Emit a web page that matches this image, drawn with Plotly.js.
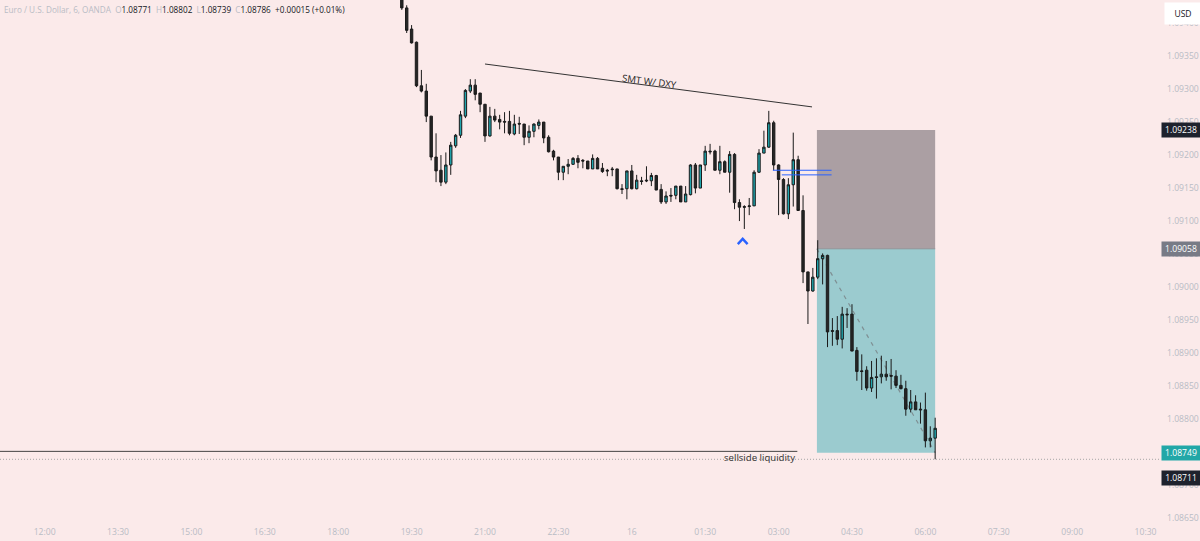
<!DOCTYPE html>
<html>
<head>
<meta charset="utf-8">
<script src="https://cdn.plot.ly/plotly-3.0.1.min.js"></script>
<style>
  html, body { margin: 0; padding: 0; background: #fbeaea; }
  #data { width: 1200px; height: 541px; }
</style>
</head>
<body>
<div id="data"></div>
<script>
var barTimes = [
  '2023-08-15 19:18','2023-08-15 19:24','2023-08-15 19:30','2023-08-15 19:36','2023-08-15 19:42','2023-08-15 19:48','2023-08-15 19:54',
  '2023-08-15 20:00','2023-08-15 20:06','2023-08-15 20:12','2023-08-15 20:18','2023-08-15 20:24','2023-08-15 20:30','2023-08-15 20:36','2023-08-15 20:42','2023-08-15 20:48','2023-08-15 20:54',
  '2023-08-15 21:00','2023-08-15 21:06','2023-08-15 21:12','2023-08-15 21:18','2023-08-15 21:24','2023-08-15 21:30','2023-08-15 21:36','2023-08-15 21:42','2023-08-15 21:48','2023-08-15 21:54',
  '2023-08-15 22:00','2023-08-15 22:06','2023-08-15 22:12','2023-08-15 22:18','2023-08-15 22:24','2023-08-15 22:30','2023-08-15 22:36','2023-08-15 22:42','2023-08-15 22:48','2023-08-15 22:54',
  '2023-08-15 23:00','2023-08-15 23:06','2023-08-15 23:12','2023-08-15 23:18','2023-08-15 23:24','2023-08-15 23:30','2023-08-15 23:36','2023-08-15 23:42','2023-08-15 23:48','2023-08-15 23:54',
  '2023-08-16 00:00','2023-08-16 00:06','2023-08-16 00:12','2023-08-16 00:18','2023-08-16 00:24','2023-08-16 00:30','2023-08-16 00:36','2023-08-16 00:42','2023-08-16 00:48','2023-08-16 00:54',
  '2023-08-16 01:00','2023-08-16 01:06','2023-08-16 01:12','2023-08-16 01:18','2023-08-16 01:24','2023-08-16 01:30','2023-08-16 01:36','2023-08-16 01:42','2023-08-16 01:48','2023-08-16 01:54',
  '2023-08-16 02:00','2023-08-16 02:06','2023-08-16 02:12','2023-08-16 02:18','2023-08-16 02:24','2023-08-16 02:30','2023-08-16 02:36','2023-08-16 02:42','2023-08-16 02:48','2023-08-16 02:54',
  '2023-08-16 03:00','2023-08-16 03:06','2023-08-16 03:12','2023-08-16 03:18','2023-08-16 03:24','2023-08-16 03:30','2023-08-16 03:36','2023-08-16 03:42','2023-08-16 03:48','2023-08-16 03:54',
  '2023-08-16 04:00','2023-08-16 04:06','2023-08-16 04:12','2023-08-16 04:18','2023-08-16 04:24','2023-08-16 04:30','2023-08-16 04:36','2023-08-16 04:42','2023-08-16 04:48','2023-08-16 04:54',
  '2023-08-16 05:00','2023-08-16 05:06','2023-08-16 05:12','2023-08-16 05:18','2023-08-16 05:24','2023-08-16 05:30','2023-08-16 05:36','2023-08-16 05:42','2023-08-16 05:48','2023-08-16 05:54',
  '2023-08-16 06:00','2023-08-16 06:06','2023-08-16 06:12'
];

var opens = [
  1.09442,1.09423,1.09391,1.09371,1.09305,1.09297,1.09259,1.09197,1.09177,1.09159,1.09185,1.09214,1.09230,1.09259,1.09297,1.09306,1.09294,
  1.09277,1.09229,1.09259,1.09254,1.09251,1.09251,1.09232,1.09248,1.09247,1.09227,1.09236,1.09245,1.09250,1.09227,1.09206,1.09197,1.09174,1.09183,1.09186,1.09195,1.09192,1.09191,1.09179,1.09195,1.09180,1.09177,1.09179,1.09179,1.09149,
  1.09149,1.09176,1.09149,1.09161,1.09162,1.09161,1.09169,1.09148,1.09129,1.09139,1.09139,1.09153,1.09129,1.09140,1.09185,1.09150,1.09185,1.09206,1.09206,1.09177,1.09190,1.09174,1.09201,1.09128,1.09122,1.09122,1.09123,1.09174,1.09203,1.09212,1.09249,1.09185,1.09163,1.09111,1.09155,1.09193,1.09116,1.09023,
  1.08994,1.09015,1.09043,1.09048,1.08934,1.08934,1.08921,1.08959,1.08959,1.08904,1.08873,1.08874,1.08847,1.08864,1.08864,1.08868,1.08866,1.08865,1.08851,1.08846,1.08815,1.08826,1.08815,1.08814,1.08767,1.08771
];
var highs = [
  1.09450,1.09427,1.09397,1.09372,1.09329,1.09308,1.09259,1.09233,1.09200,1.09204,1.09220,1.09232,1.09267,1.09300,1.09315,1.09315,1.09294,
  1.09277,1.09273,1.09270,1.09261,1.09265,1.09267,1.09261,1.09258,1.09247,1.09245,1.09248,1.09254,1.09250,1.09230,1.09208,1.09197,1.09183,1.09194,1.09197,1.09200,1.09194,1.09191,1.09201,1.09197,1.09188,1.09179,1.09182,1.09179,1.09156,
  1.09176,1.09185,1.09170,1.09167,1.09183,1.09173,1.09170,1.09156,1.09145,1.09150,1.09153,1.09153,1.09153,1.09186,1.09188,1.09185,1.09214,1.09217,1.09208,1.09214,1.09192,1.09206,1.09203,1.09133,1.09124,1.09135,1.09177,1.09209,1.09237,1.09267,1.09252,1.09186,1.09165,1.09165,1.09234,1.09199,1.09139,1.09023,
  1.09029,1.09071,1.09051,1.09049,1.08953,1.08956,1.08970,1.08968,1.08974,1.08909,1.08898,1.08880,1.08888,1.08892,1.08896,1.08888,1.08891,1.08874,1.08867,1.08858,1.08844,1.08836,1.08825,1.08840,1.08789,1.08802
];
var lows = [
  1.09420,1.09385,1.09369,1.09303,1.09295,1.09250,1.09192,1.09159,1.09153,1.09156,1.09170,1.09211,1.09226,1.09256,1.09294,1.09283,1.09265,
  1.09220,1.09228,1.09250,1.09239,1.09233,1.09230,1.09230,1.09232,1.09215,1.09218,1.09227,1.09239,1.09218,1.09204,1.09192,1.09162,1.09162,1.09171,1.09185,1.09180,1.09180,1.09179,1.09179,1.09179,1.09173,1.09168,1.09168,1.09148,1.09141,
  1.09133,1.09148,1.09148,1.09155,1.09159,1.09153,1.09147,1.09126,1.09126,1.09129,1.09133,1.09129,1.09129,1.09139,1.09142,1.09150,1.09176,1.09201,1.09177,1.09171,1.09174,1.09143,1.09118,1.09100,1.09088,1.09109,1.09123,1.09173,1.09203,1.09211,1.09177,1.09109,1.09110,1.09103,1.09122,1.09116,1.09006,1.08944,
  1.08993,1.09012,1.09004,1.08909,1.08911,1.08912,1.08907,1.08938,1.08903,1.08858,1.08844,1.08843,1.08841,1.08831,1.08854,1.08858,1.08845,1.08847,1.08845,1.08805,1.08810,1.08814,1.08793,1.08757,1.08757,1.08739
];
var closes = [
  1.09423,1.09389,1.09370,1.09305,1.09297,1.09259,1.09197,1.09176,1.09159,1.09185,1.09215,1.09230,1.09261,1.09298,1.09306,1.09292,1.09277,
  1.09229,1.09259,1.09253,1.09250,1.09250,1.09233,1.09247,1.09247,1.09227,1.09236,1.09247,1.09250,1.09226,1.09205,1.09197,1.09174,1.09183,1.09186,1.09195,1.09189,1.09191,1.09179,1.09195,1.09179,1.09175,1.09176,1.09178,1.09149,1.09148,
  1.09176,1.09149,1.09162,1.09160,1.09161,1.09169,1.09147,1.09129,1.09138,1.09138,1.09153,1.09129,1.09141,1.09185,1.09150,1.09185,1.09206,1.09205,1.09177,1.09190,1.09174,1.09201,1.09128,1.09121,1.09121,1.09123,1.09174,1.09203,1.09212,1.09249,1.09185,1.09163,1.09111,1.09155,1.09193,1.09116,1.09023,1.08994,
  1.09015,1.09043,1.09048,1.08932,1.08933,1.08921,1.08959,1.08958,1.08903,1.08872,1.08872,1.08847,1.08863,1.08863,1.08868,1.08864,1.08865,1.08851,1.08846,1.08815,1.08826,1.08814,1.08814,1.08767,1.08771,1.08786
];

var timeTicks = ['2023-08-15 12:00','2023-08-15 13:30','2023-08-15 15:00','2023-08-15 16:30','2023-08-15 18:00','2023-08-15 19:30','2023-08-15 21:00','2023-08-15 22:30','2023-08-16 00:00','2023-08-16 01:30','2023-08-16 03:00','2023-08-16 04:30','2023-08-16 06:00','2023-08-16 07:30','2023-08-16 09:00','2023-08-16 10:30'];
var timeLabels = ['12:00','13:30','15:00','16:30','18:00','19:30','21:00','22:30','16','01:30','03:00','04:30','06:00','07:30','09:00','10:30'];
var priceTicks = [1.0865,1.087,1.0875,1.088,1.0885,1.089,1.0895,1.09,1.0905,1.091,1.0915,1.092,1.0925,1.093,1.0935,1.094];

var xRange = ['2023-08-15 11:05:18','2023-08-16 10:47:42'];
var yRange = [1.08647,1.09435];

var positionTimes = ['2023-08-16 03:47','2023-08-16 06:12'];
var positionStop = 1.09238;
var positionEntry = 1.09058;
var positionTarget = 1.08749;
var smtTimes = ['2023-08-15 21:00','2023-08-16 03:41'];
var smtPrices = [1.09338,1.09273];
var liquidityEnd = '2023-08-16 03:23';
var liquidityPrice = 1.08751;
var cursorPrice = 1.08739;
var blueEnd = '2023-08-16 04:05';
var blueStarts = ['2023-08-16 02:53','2023-08-16 03:04'];
var bluePrices = [1.09177,1.09170];
var caretTimes = ['2023-08-16 02:10','2023-08-16 02:16','2023-08-16 02:22'];
var caretPrices = [1.09065,1.09073,1.09065];

var priceTags = ['1.09238','1.09058','1.08749','1.08711'];
var tagColors = ['#1e222d','#787b86','#22a7a7','#1e222d'];

var fontFamily = 'Open Sans, Noto Sans, sans-serif';
var mutedText = '#b9bcc5';
var blue = '#2962ff';

var traces = [{
  type: 'candlestick',
  x: barTimes,
  open: opens,
  high: highs,
  low: lows,
  close: closes,
  whiskerwidth: 0,
  increasing: { line: { color: '#1a1a1a', width: 1 }, fillcolor: '#1fa6ae' },
  decreasing: { line: { color: '#1a1a1a', width: 1 }, fillcolor: '#262626' },
  hoverinfo: 'skip',
  showlegend: false
}, {
  type: 'scatter',
  mode: 'lines',
  x: caretTimes,
  y: caretPrices,
  line: { color: blue, width: 2.4 },
  hoverinfo: 'skip',
  showlegend: false
}];

var shapes = [
  {
    type: 'rect', layer: 'below', xref: 'x', yref: 'y',
    x0: positionTimes[0], x1: positionTimes[1], y0: positionEntry, y1: positionStop,
    fillcolor: '#ab9fa3', line: { width: 0 }
  },
  {
    type: 'rect', layer: 'below', xref: 'x', yref: 'y',
    x0: positionTimes[0], x1: positionTimes[1], y0: positionTarget, y1: positionEntry,
    fillcolor: '#9bcbcf', line: { width: 0 }
  },
  {
    type: 'line', layer: 'below', xref: 'x', yref: 'y',
    x0: positionTimes[0], x1: positionTimes[1], y0: positionEntry, y1: positionEntry,
    line: { color: '#8f8f94', width: 1 }
  },
  {
    type: 'line', layer: 'below', xref: 'x', yref: 'y',
    x0: positionTimes[0], x1: positionTimes[1], y0: positionEntry, y1: positionTarget,
    line: { color: '#7f9094', width: 1.2, dash: '4px,5px' }
  },
  {
    type: 'line', layer: 'above', xref: 'x', yref: 'y',
    x0: smtTimes[0], x1: smtTimes[1], y0: smtPrices[0], y1: smtPrices[1],
    line: { color: '#333333', width: 1 }
  },
  {
    type: 'line', layer: 'above', xref: 'x', yref: 'y',
    x0: xRange[0], x1: liquidityEnd, y0: liquidityPrice, y1: liquidityPrice,
    line: { color: '#444444', width: 1 }
  },
  {
    type: 'line', layer: 'below', xref: 'paper', yref: 'y',
    x0: 0, x1: 1, y0: cursorPrice, y1: cursorPrice,
    line: { color: '#a5a5a5', width: 1, dash: '1px,2px' }
  },
  {
    type: 'line', layer: 'above', xref: 'x', yref: 'y',
    x0: blueStarts[0], x1: blueEnd, y0: bluePrices[0], y1: bluePrices[0],
    line: { color: blue, width: 1 }
  },
  {
    type: 'line', layer: 'above', xref: 'x', yref: 'y',
    x0: blueStarts[1], x1: blueEnd, y0: bluePrices[1], y1: bluePrices[1],
    line: { color: blue, width: 1 }
  }
];

var annotations = [
  {
    xref: 'paper', yref: 'paper', x: 0, y: 1, xanchor: 'left', yanchor: 'top',
    xshift: 2, yshift: -2, showarrow: false, align: 'left',
    font: { family: fontFamily, size: 8.2, color: '#131722' },
    text: '<span style="color:' + mutedText + '">Euro / U.S. Dollar, 6, OANDA</span>  ' +
      '<span style="color:' + mutedText + '">O</span>1.08771  ' +
      '<span style="color:' + mutedText + '">H</span>1.08802  ' +
      '<span style="color:' + mutedText + '">L</span>1.08739  ' +
      '<span style="color:' + mutedText + '">C</span>1.08786  +0.00015 (+0.01%)'
  },
  {
    xref: 'x', yref: 'y', x: '2023-08-16 00:22', y: 1.09312,
    text: 'SMT W/ DXY', showarrow: false, textangle: 7.5,
    font: { family: fontFamily, size: 9.6, color: '#222222' }
  },
  {
    xref: 'x', yref: 'y', x: '2023-08-16 02:36', y: 1.08741,
    text: 'sellside liquidity', showarrow: false,
    font: { family: fontFamily, size: 9.6, color: '#333333' }
  },
  {
    xref: 'paper', yref: 'paper', x: 1, y: 1, xanchor: 'left', yanchor: 'top',
    xshift: 4, yshift: -2, width: 34, height: 19, showarrow: false, align: 'center',
    bgcolor: '#ffffff', text: 'USD',
    font: { family: fontFamily, size: 8.5, color: '#131722' }
  }
];

priceTags.forEach(function (tag, i) {
  annotations.push({
    xref: 'paper', yref: 'y', x: 1, y: parseFloat(tag), xanchor: 'left',
    xshift: 1, width: 38, height: 14, showarrow: false, align: 'center',
    bgcolor: tagColors[i], text: tag, borderpad: 0,
    font: { family: fontFamily, size: 8.6, color: '#ffffff' }
  });
});

var layout = {
  width: 1200,
  height: 541,
  margin: { l: 0, r: 40, t: 0, b: 21, pad: 0 },
  paper_bgcolor: '#fbeaea',
  plot_bgcolor: '#fbeaea',
  font: { family: fontFamily, size: 8.6, color: mutedText },
  showlegend: false,
  shapes: shapes,
  annotations: annotations,
  xaxis: {
    type: 'date',
    range: xRange,
    tickmode: 'array',
    tickvals: timeTicks,
    ticktext: timeLabels,
    ticks: '',
    ticklabelstandoff: 5,
    showgrid: false,
    zeroline: false,
    showline: false,
    rangeslider: { visible: false },
    tickfont: { family: fontFamily, size: 8.6, color: mutedText }
  },
  yaxis: {
    range: yRange,
    side: 'right',
    tickmode: 'array',
    tickvals: priceTicks,
    tickformat: '.5f',
    ticks: '',
    ticklabelstandoff: 6,
    showgrid: false,
    zeroline: false,
    showline: false,
    tickfont: { family: fontFamily, size: 8.6, color: mutedText }
  }
};

Plotly.newPlot('data', traces, layout, { displayModeBar: false, staticPlot: true });
</script>
</body>
</html>
